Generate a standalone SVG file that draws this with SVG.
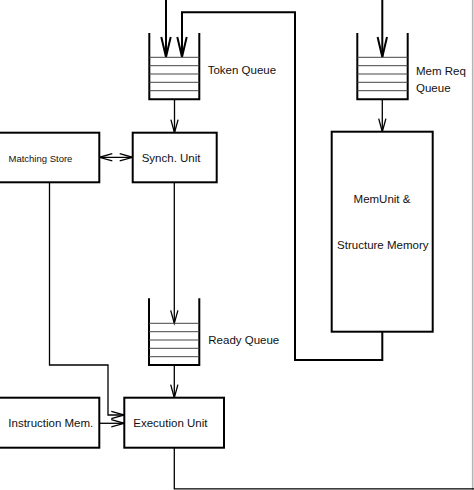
<svg xmlns="http://www.w3.org/2000/svg" width="474" height="490" viewBox="0 0 474 490">
<style>
.box{fill:#fff;stroke:#000;stroke-width:2}
.wall{fill:none;stroke:#000;stroke-width:2}
.slot{stroke:#444;stroke-width:1}
.t{font-family:"Liberation Sans",Arial,sans-serif;font-size:11.5px;fill:#111}
.ts{font-family:"Liberation Sans",Arial,sans-serif;font-size:9.5px;fill:#111}
.thick{fill:none;stroke:#000;stroke-width:2}
.thin{fill:none;stroke:#000;stroke-width:1.3}
</style>
<defs>
<marker id="big" markerUnits="userSpaceOnUse" markerWidth="24" markerHeight="14" refX="20" refY="7" orient="auto" overflow="visible">
<path d="M0,2.3 L20,7 L0,11.7" fill="none" stroke="#000" stroke-width="2"/>
</marker>
<marker id="small" markerUnits="userSpaceOnUse" markerWidth="16" markerHeight="12" refX="13" refY="6" orient="auto-start-reverse" overflow="visible">
<path d="M0,2.4 L13,6 L0,9.6" fill="none" stroke="#000" stroke-width="1.3"/>
</marker>
</defs>
<line x1="472.7" y1="0" x2="472.7" y2="490" stroke="#b4b4b4" stroke-width="1.6"/>
<g id="connectors">
<path class="thick" d="M166,0 V57" marker-end="url(#big)"/>
<path class="thick" d="M382.3,332 V360 H295 V12.3 H182 V57" marker-end="url(#big)"/>
<path class="thick" d="M382.3,0 V57" marker-end="url(#big)"/>
<path class="thin" d="M174.5,99.3 V132.7" marker-end="url(#small)"/>
<path class="thin" d="M382.3,99.3 V131.7" marker-end="url(#small)"/>
<path class="thin" d="M99.3,157.3 H132.7" marker-start="url(#small)" marker-end="url(#small)"/>
<path class="thin" d="M174.3,182.3 V323.3" marker-end="url(#small)"/>
<path class="thin" d="M174.3,365 V397.7" marker-end="url(#small)"/>
<path class="thin" d="M49.5,182.3 V365 H108 V415 H124.3" marker-end="url(#small)"/>
<path class="thin" d="M99.3,423.3 H124.3" marker-end="url(#small)"/>
<path class="thin" d="M174.3,447.7 V488.8 H474"/>
</g>
<g id="token-queue">
<path class="wall" d="M149.3,33 V99.3 H199.3 V33"/>
<g class="slot"><line x1="149.3" y1="57.3" x2="199.3" y2="57.3"/><line x1="149.3" y1="65.7" x2="199.3" y2="65.7"/><line x1="149.3" y1="74" x2="199.3" y2="74"/><line x1="149.3" y1="82.3" x2="199.3" y2="82.3"/><line x1="149.3" y1="90.7" x2="199.3" y2="90.7"/></g>
<text class="t" x="207.7" y="74">Token Queue</text>
</g>
<g id="mem-req-queue">
<path class="wall" d="M357.3,33 V99.3 H407.7 V33"/>
<g class="slot"><line x1="357.3" y1="57.3" x2="407.7" y2="57.3"/><line x1="357.3" y1="65.7" x2="407.7" y2="65.7"/><line x1="357.3" y1="74" x2="407.7" y2="74"/><line x1="357.3" y1="82.3" x2="407.7" y2="82.3"/><line x1="357.3" y1="90.7" x2="407.7" y2="90.7"/></g>
<text class="t" x="416" y="74.5">Mem Req</text>
<text class="t" x="416" y="91.5">Queue</text>
</g>
<g id="matching-store">
<rect class="box" x="-3" y="132.7" width="102.3" height="49.6"/>
<text class="ts" x="8.5" y="161.5">Matching Store</text>
</g>
<g id="synch-unit">
<rect class="box" x="132.7" y="132.7" width="84" height="49.6"/>
<text class="t" x="141.7" y="161.7">Synch. Unit</text>
</g>
<g id="memunit">
<rect class="box" x="331.7" y="131.7" width="101" height="200"/>
<text class="t" x="382" y="203.3" text-anchor="middle">MemUnit &amp;</text>
<text class="t" x="382.8" y="249" text-anchor="middle">Structure Memory</text>
</g>
<g id="ready-queue">
<path class="wall" d="M149,298.3 V365 H199.3 V298.3"/>
<g class="slot"><line x1="149" y1="323.3" x2="199.3" y2="323.3"/><line x1="149" y1="331.7" x2="199.3" y2="331.7"/><line x1="149" y1="340" x2="199.3" y2="340"/><line x1="149" y1="348.3" x2="199.3" y2="348.3"/><line x1="149" y1="356.7" x2="199.3" y2="356.7"/></g>
<text class="t" x="208.3" y="344.3">Ready Queue</text>
</g>
<g id="instruction-mem">
<rect class="box" x="-3" y="397.7" width="102.3" height="50"/>
<text class="t" x="8.3" y="427.3">Instruction Mem.</text>
</g>
<g id="execution-unit">
<rect class="box" x="124.3" y="397.7" width="99.7" height="50"/>
<text class="t" x="133.3" y="427.3">Execution Unit</text>
</g>
</svg>
